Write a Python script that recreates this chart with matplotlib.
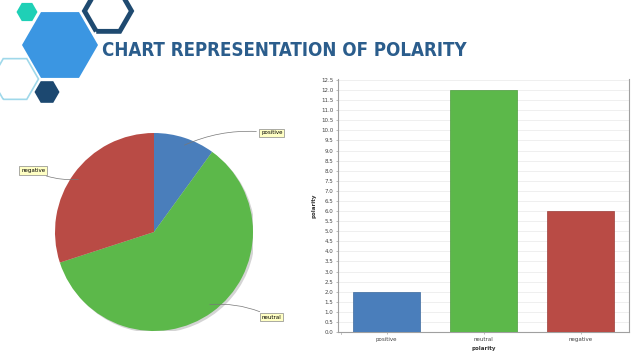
import numpy as np
import matplotlib
matplotlib.use("Agg")
import matplotlib.pyplot as plt
from matplotlib.patches import RegularPolygon, Circle

categories = ["positive", "neutral", "negative"]
counts = [2, 12, 6]
colors = ["#4a7ebb", "#5cb84a", "#b94b45"]
yticks = np.arange(0, 12.5 + 0.01, 0.5)
title = "CHART REPRESENTATION OF POLARITY"

W, H = 638, 359
fig = plt.figure(figsize=(W / 100, H / 100), dpi=100)
fig.patch.set_facecolor("white")

# background layer in pixel coordinates
bg = fig.add_axes([0, 0, 1, 1])
bg.set_xlim(0, W)
bg.set_ylim(H, 0)
bg.axis("off")

# decorative hexagons (flat top)
hexes = [
    # (x, y, radius, face, edge, lw)
    (15, 79, 23.5, "none", "#9fd8ea", 1.2),
    (108, 11, 23.5, "none", "#1f4a70", 3.5),
    (60, 45, 38, "#3b96e2", "none", 0),
    (27, 12, 10.5, "#1fd0b6", "none", 0),
    (47, 92, 12.5, "#1c4870", "none", 0),
]
for x, y, r, fc, ec, lw in hexes:
    bg.add_patch(RegularPolygon((x, y), 6, radius=r, orientation=np.pi / 6,
                                facecolor=fc, edgecolor=ec, linewidth=lw))

bg.text(102, 50, title, fontsize=13.4, fontweight="bold", fontstretch="condensed",
        color="#2b5d8c", va="center", ha="left", family="DejaVu Sans")

# pie chart
cx, cy, r = 154, 232, 99
pie_ax = fig.add_axes([(cx - r) / W, (H - cy - r) / H, 2 * r / W, 2 * r / H])
pie_ax.add_patch(Circle((0.02, -0.02), 1.0, facecolor="#d4d4d4", edgecolor="none", zorder=0))
wedges, _ = pie_ax.pie(counts, colors=colors, startangle=90, counterclock=False,
                       radius=1.0, wedgeprops=dict(linewidth=0))
pie_ax.set_xlim(-1, 1)
pie_ax.set_ylim(-1, 1)
pie_ax.set_aspect("auto")

label_pos = {"positive": (1.19, 1.0), "neutral": (1.19, -0.86), "negative": (-1.22, 0.62)}
for w, name in zip(wedges, categories):
    ang = np.deg2rad((w.theta1 + w.theta2) / 2)
    start = (0.91 * np.cos(ang), 0.91 * np.sin(ang))
    pie_ax.annotate(name, xy=start, xytext=label_pos[name], fontsize=4,
                    ha="center", va="center", annotation_clip=False,
                    bbox=dict(boxstyle="square,pad=0.3", facecolor="#ffffc4",
                              edgecolor="#888888", linewidth=0.5),
                    arrowprops=dict(arrowstyle="-", color="#777777", linewidth=0.5,
                                    connectionstyle="arc3,rad=0.15"))

# bar chart
x0, x1, ytop, ybot = 338, 629, 79, 332
bar_ax = fig.add_axes([x0 / W, (H - ybot) / H, (x1 - x0) / W, (ybot - ytop) / H])
xs = np.arange(len(categories))
bar_ax.bar(xs, counts, width=0.7, color=colors, edgecolor=["#3d6a9e", "#4d9c3e", "#9c3e39"],
           linewidth=0.5, zorder=3)
bar_ax.set_xlim(-0.5, 2.5)
bar_ax.set_ylim(0, 12.55)
bar_ax.set_yticks(yticks)
bar_ax.set_yticklabels(["%.1f" % v for v in yticks])
bar_ax.set_xticks(xs)
bar_ax.set_xticklabels(categories)
bar_ax.tick_params(axis="both", labelsize=4, length=1.5, width=0.4, color="#888888",
                   labelcolor="#444444", pad=2)
bar_ax.yaxis.grid(True, color="#ececec", linewidth=0.6, zorder=0)
for s in ["left", "right", "bottom"]:
    bar_ax.spines[s].set_color("#a0a0a0")
    bar_ax.spines[s].set_linewidth(0.8)
bar_ax.spines["top"].set_visible(False)
bar_ax.set_ylabel("polarity", fontsize=4, fontweight="bold", color="#333333", labelpad=3)
bar_ax.set_xlabel("polarity", fontsize=4, fontweight="bold", color="#333333", labelpad=3)
# second border line on the left like the original
bg.plot([341, 341], [ytop, ybot + 2], color="#b8b8b8", linewidth=0.6)

fig.savefig("out.png", dpi=100, facecolor="white")
